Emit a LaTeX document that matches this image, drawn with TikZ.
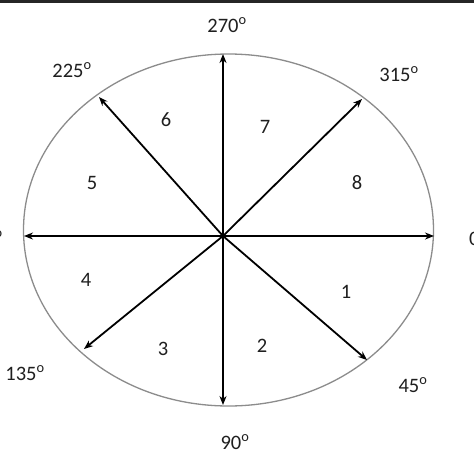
\documentclass[tikz,border=0pt]{standalone}
\usepackage{fontspec}
\setmainfont{Carlito}
\usetikzlibrary{arrows.meta}
\begin{document}
\begin{tikzpicture}[x=1pt,y=-1pt,
  lab/.style={font=\fontsize{20.5}{22}\selectfont, text=black!88, inner sep=0pt},
  dir/.style={line width=1.8pt, -{Stealth[length=9pt,width=7pt]}},
  ring/.style={draw=black!45, line width=1.3pt}]
\useasboundingbox (0,0) rectangle (474,474);
\fill[white] (0,0) rectangle (474,474);
\fill[black!85] (0,0) rectangle (474,2.5);
\draw[ring] (228.5,230) ellipse [x radius=205, y radius=176];
\coordinate (c) at (223,236);
\coordinate (e0) at (434,236);
\coordinate (e180) at (24,236);
\coordinate (e270) at (223,54);
\coordinate (e90) at (223,405);
\coordinate (e225) at (99,97);
\coordinate (e315) at (362,99);
\coordinate (e135) at (84,349);
\coordinate (e45) at (367,360);
\foreach \e in {e0,e180,e270,e90,e225,e315,e135,e45} \draw[dir] (c) -- (\e);
\node[lab] (l270) at (227,25) {270\textsuperscript{o}};
\node[lab] (l225) at (72,70) {225\textsuperscript{o}};
\node[lab] (l315) at (399,74) {315\textsuperscript{o}};
\node[lab] (l135) at (25,373) {135\textsuperscript{o}};
\node[lab] (l45) at (413,385) {45\textsuperscript{o}};
\node[lab] (l90) at (235,442) {90\textsuperscript{o}};
\node[lab,anchor=west] (l0) at (469,238) {0\textsuperscript{o}};
\node[lab,anchor=east] (l180) at (3,238) {180\textsuperscript{o}};
\node[lab] (n6) at (166,120) {6};
\node[lab] (n7) at (265,127) {7};
\node[lab] (n5) at (92,183) {5};
\node[lab] (n8) at (357,183) {8};
\node[lab] (n4) at (86,280) {4};
\node[lab] (n1) at (346,292) {1};
\node[lab] (n3) at (163,349) {3};
\node[lab] (n2) at (262,346) {2};
\end{tikzpicture}
\end{document}
